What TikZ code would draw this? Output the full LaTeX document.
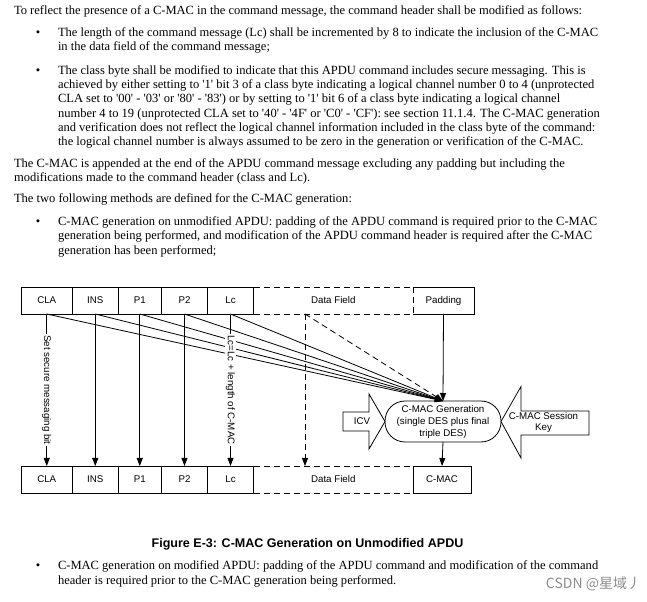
\documentclass[tikz,border=0pt]{standalone}
\usepackage{fontspec}
\setmainfont{Liberation Serif}
\newfontfamily\diagfont{Liberation Sans}
\newfontfamily\cjkfont{Noto Sans CJK SC}
\usetikzlibrary{arrows.meta}
\newcommand{\sq}{\textquotesingle}
\begin{document}
\begin{tikzpicture}[x=0.75pt,y=-0.75pt,
  every node/.style={inner sep=0pt,outer sep=0pt},
  body/.style={anchor=base west,font=\fontsize{9.4}{11}\selectfont},
  bul/.style={anchor=base,font=\fontsize{9.4}{11}\selectfont},
  dtext/.style={font=\diagfont\fontsize{7.3}{9}\selectfont},
  fld/.style={dtext,draw,line width=0.6pt,minimum height=20.25pt},
  dfld/.style={dtext,draw,dash pattern=on 4.5pt off 3pt,line width=0.6pt,minimum height=20.25pt},
  blank/.style={dtext,minimum height=20.25pt},
  arr/.style={line width=0.6pt,-{Triangle[length=6pt,width=4.5pt]}},
  darr/.style={arr,dash pattern=on 4.5pt off 3pt},
  lab/.style={dtext,fill=white,rotate=-90,inner xsep=1pt,inner ysep=0.5pt}]
\useasboundingbox (0,0) rectangle (647,602);

% ---------------- text above ----------------
\node[body] (t1) at (14,14.5) {To reflect the presence of a C-MAC in the command message, the command header shall be modified as follows:};
\node[bul] (b1) at (38,36.5) {\textbullet};
\node[body] (t2) at (58,36.5) {The length of the command message (Lc) shall be incremented by 8 to indicate the inclusion of the C-MAC};
\node[body] (t3) at (58,50.5) {in the data field of the command message;};
\node[bul] (b2) at (38,74.5) {\textbullet};
\node[body] (t4) at (58,74.5) {The class byte shall be modified to indicate that this APDU command includes secure messaging. This is};
\node[body] (t5) at (58,88.7) {achieved by either setting to \sq1\sq{} bit 3 of a class byte indicating a logical channel number 0 to 4 (unprotected};
\node[body] (t6) at (58,102.9) {CLA set to \sq00\sq{} - \sq03\sq{} or \sq80\sq{} - \sq83\sq) or by setting to \sq1\sq{} bit 6 of a class byte indicating a logical channel};
\node[body] (t7) at (58,117.1) {number 4 to 19 (unprotected CLA set to \sq40\sq{} - \sq4F\sq{} or \sq C0\sq{} - \sq CF\sq): see section 11.1.4. The C-MAC generation};
\node[body] (t8) at (58,131.3) {and verification does not reflect the logical channel information included in the class byte of the command:};
\node[body] (t9) at (58,145.5) {the logical channel number is always assumed to be zero in the generation or verification of the C-MAC.};
\node[body] (t10) at (14,167.5) {The C-MAC is appended at the end of the APDU command message excluding any padding but including the};
\node[body] (t11) at (14,181.5) {modifications made to the command header (class and Lc).};
\node[body] (t12) at (14,202.5) {The two following methods are defined for the C-MAC generation:};
\node[bul] (b3) at (38,225.5) {\textbullet};
\node[body] (t13) at (58,225.5) {C-MAC generation on unmodified APDU: padding of the APDU command is required prior to the C-MAC};
\node[body] (t14) at (58,240) {generation being performed, and modification of the APDU command header is required after the C-MAC};
\node[body] (t15) at (58,254.5) {generation has been performed;};

% ---------------- top row ----------------
\node[dfld,minimum width=119.625pt] (tdf) at (333.25,300.5) {Data Field};
\node[blank,minimum width=45.75pt] (tpad) at (443.5,300.5) {Padding};
\draw[line width=0.6pt] (tpad.north west) -- (tpad.north east) -- (tpad.south east) -- (tpad.south west);
\node[fld,minimum width=38.625pt] (tcla) at (46.75,300.5) {CLA};
\node[fld,minimum width=34.125pt] (tins) at (95.25,300.5) {INS};
\node[fld,minimum width=32.625pt] (tp1) at (139.75,300.5) {P1};
\node[fld,minimum width=34.5pt] (tp2) at (184.5,300.5) {P2};
\node[fld,minimum width=34.5pt] (tlc) at (230.5,300.5) {Lc};

% ---------------- bottom row ----------------
\node[dfld,minimum width=119.625pt] (bdf) at (333.25,479.5) {Data Field};
\node[fld,minimum width=43.5pt] (bmac) at (442,479.5) {C-MAC};
\node[fld,minimum width=38.625pt] (bcla) at (46.75,479.5) {CLA};
\node[fld,minimum width=34.125pt] (bins) at (95.25,479.5) {INS};
\node[fld,minimum width=32.625pt] (bp1) at (139.75,479.5) {P1};
\node[fld,minimum width=34.5pt] (bp2) at (184.5,479.5) {P2};
\node[fld,minimum width=34.5pt] (blc) at (230.5,479.5) {Lc};

% ---------------- generation ----------------
\node[dtext,draw,fill=white,line width=0.6pt,rounded corners=15pt,minimum width=87pt,minimum height=30.75pt,align=center] (gen) at (443,421.5)
  {C-MAC Generation\\(single DES plus final\\triple DES)};
\draw[line width=0.6pt,fill=white] (343,412) -- (369,412) -- (369,394) -- (gen.west) -- (369,449) -- (369,431) -- (343,431) -- cycle;
\node[dtext] (icv) at (362,421.5) {ICV};
\draw[line width=0.6pt,fill=white] (589,411) -- (521,411) -- (521,386.5) -- (gen.east) -- (521,458) -- (521,435) -- (589,435) -- cycle;
\node[dtext,align=center,font=\diagfont\fontsize{7.3}{8.3}\selectfont] (key) at (543.5,422.5) {C-MAC Session\\Key};

% ---------------- connectors ----------------
\coordinate (dtop) at (305,314);
\coordinate (dbot) at (305,466);
\foreach \n in {tcla,tins,tp1,tp2,tlc}
  \draw[line width=0.6pt,-{Triangle[length=6pt,width=4.5pt]}] (\n.south) -- (gen.north);
\draw[darr] (dtop) -- (gen.north);
\draw[arr] (tpad.south) -- (gen.north);
\draw[arr] (tcla) -- node[lab] {Set secure messaging bit} (bcla);
\draw[arr] (tins) -- (bins);
\draw[arr] (tp1) -- (bp1);
\draw[arr] (tp2) -- (bp2);
\draw[arr] (tlc) -- node[lab] {Lc=Lc + length of C-MAC} (blc);
\draw[darr] (dtop) -- (dbot);
\draw[arr] (gen.south) -- (bmac.north);

% ---------------- caption and text below ----------------
\node[anchor=base,font=\diagfont\bfseries\fontsize{9.4}{11}\selectfont] (cap) at (307.5,547) {Figure E-3: C-MAC Generation on Unmodified APDU};
\node[bul] (b4) at (38,569.5) {\textbullet};
\node[body] (t16) at (58,569.5) {C-MAC generation on modified APDU: padding of the APDU command and modification of the command};
\node[body] (t17) at (58,584.5) {header is required prior to the C-MAC generation being performed.};
\node[anchor=base east,text=black!45,font=\cjkfont\fontsize{10.5}{12}\selectfont] (wm) at (641,589) {CSDN @星域丿};
\end{tikzpicture}
\end{document}
